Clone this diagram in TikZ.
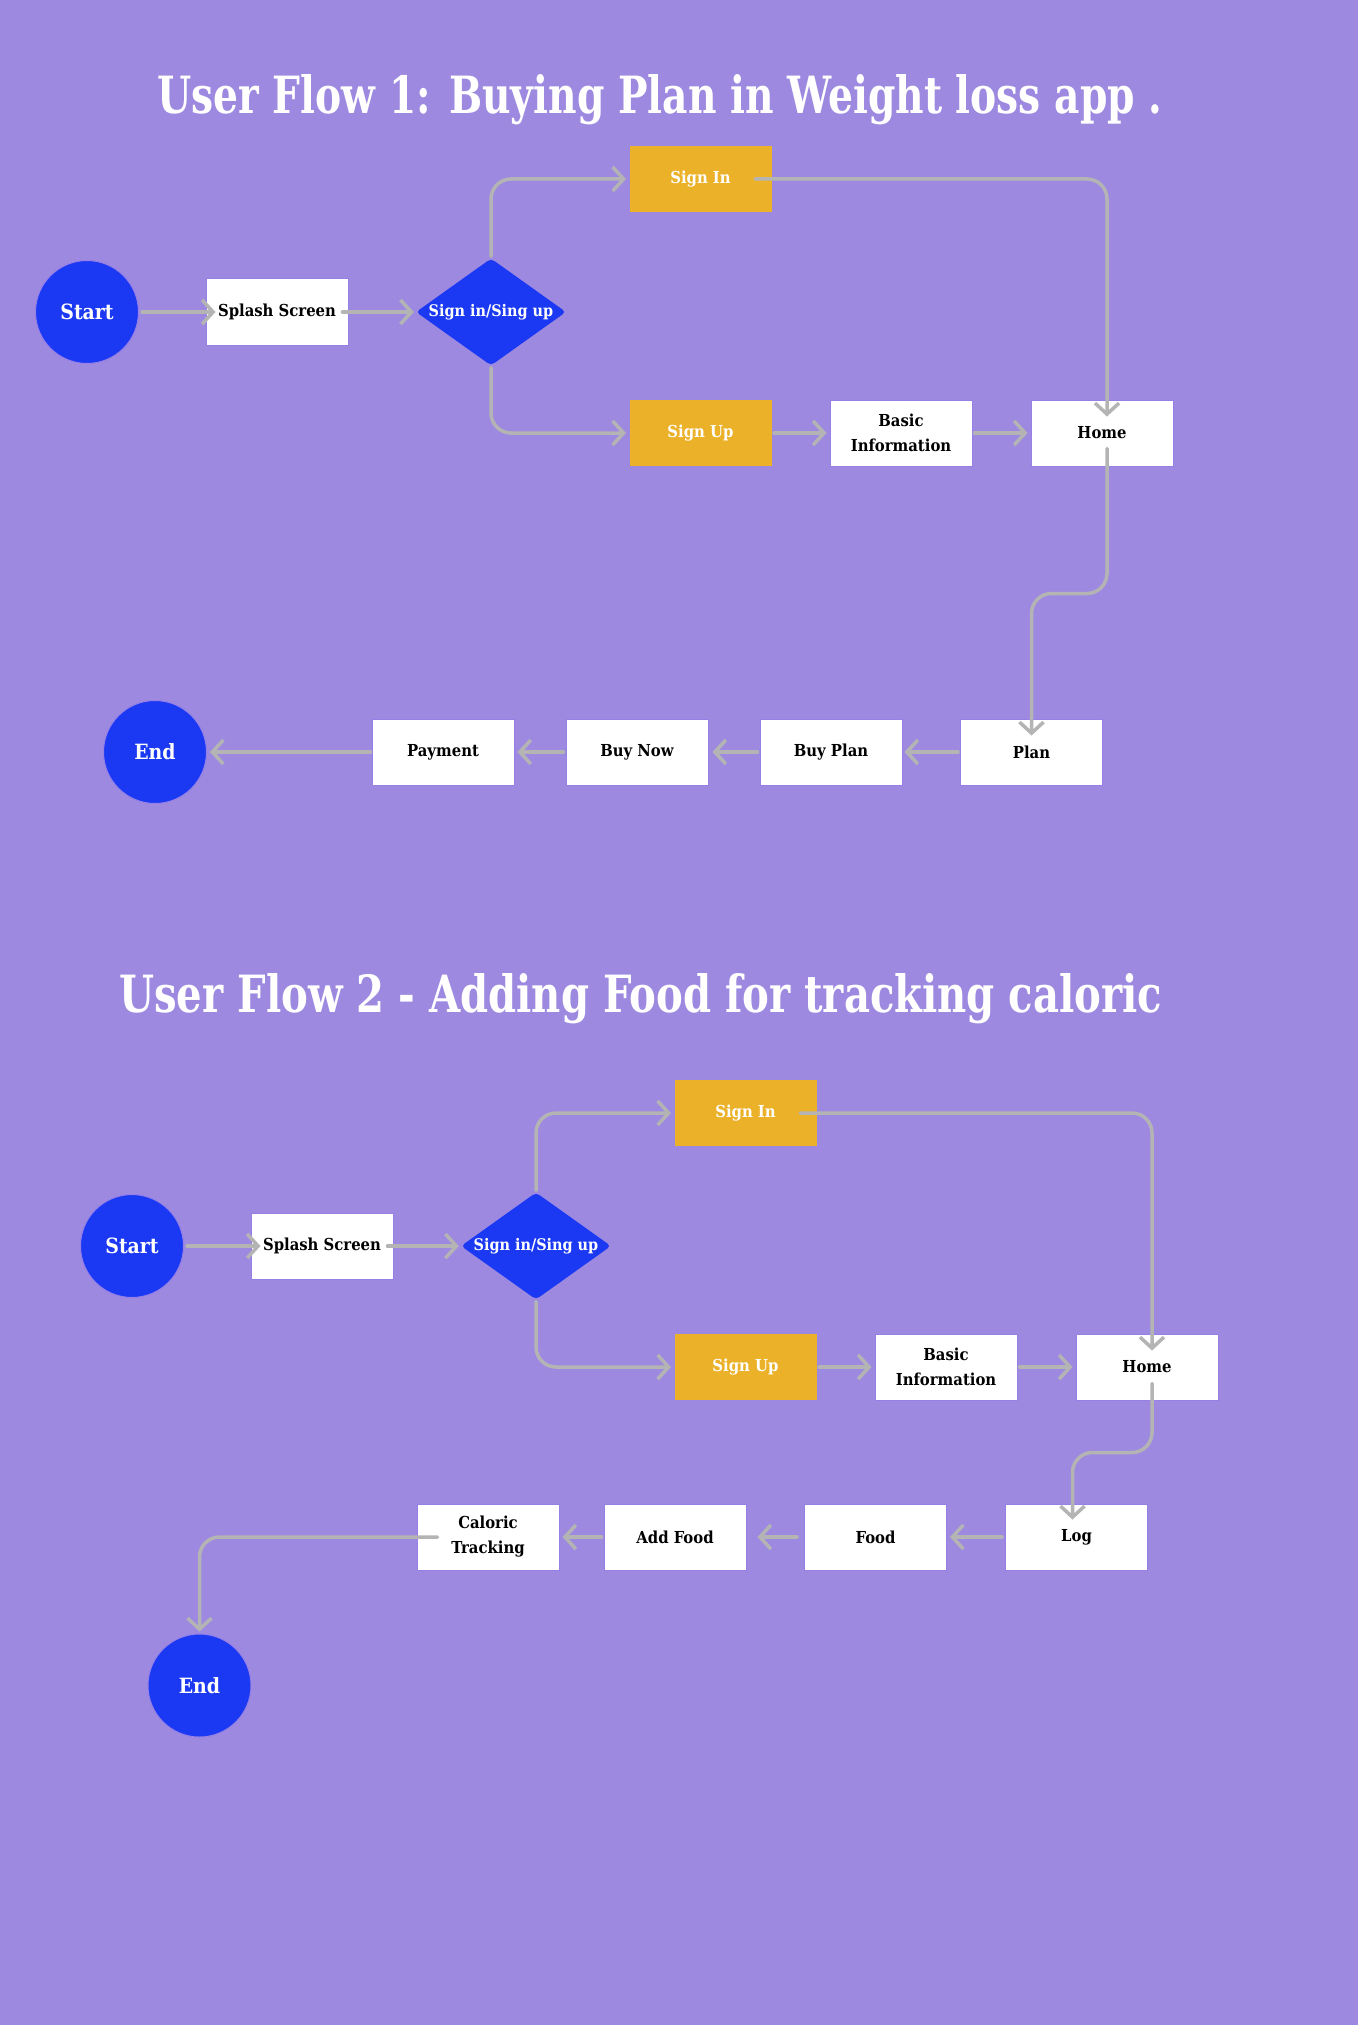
\documentclass[tikz,border=0pt]{standalone}
\usepackage{fontspec}
\setmainfont{DejaVu Serif Condensed}
\newfontfamily\titlefont{DejaVu Serif}
\usetikzlibrary{arrows.meta}
\usetikzlibrary{shapes.geometric}

\definecolor{bgpurple}{RGB}{158,137,224}
\definecolor{flowblue}{RGB}{27,57,242}
\definecolor{flowyellow}{RGB}{235,177,40}
\definecolor{flowgray}{RGB}{180,180,180}
\definecolor{boxedge}{RGB}{150,128,232}

\begin{document}
\begin{tikzpicture}[x=1pt,y=-1pt,
    screen/.style={rectangle,fill=white,draw=boxedge,line width=1pt,minimum width=142pt,minimum height=66pt,inner sep=0pt,text=black,align=center,font=\bfseries\fontsize{16.5}{25}\selectfont},
    auth/.style={screen,fill=flowyellow,draw=none,text=white},
    terminal/.style={circle,fill=flowblue,draw=boxedge,line width=1pt,minimum size=103pt,inner sep=0pt,text=white,font=\bfseries\fontsize{21}{24}\selectfont},
    choice/.style={diamond,aspect=1.4,fill=flowblue,rounded corners=4pt,minimum width=150pt,minimum height=107pt,inner sep=0pt,text=white,font=\bfseries\fontsize{16}{20}\selectfont},
    heading/.style={anchor=base west,inner sep=0pt,text=white,font=\titlefont\bfseries},
    flow/.style={draw=flowgray,line width=3.5pt,line cap=round,rounded corners=20pt,-{Straight Barb[length=11pt,width=24pt]}}
  ]
  \fill[bgpurple] (0,0) rectangle (1358,2025);
  \useasboundingbox (0,0) rectangle (1358,2025);

  \node[heading] (Title1) at (157,114) {\resizebox{1005pt}{39pt}{User Flow 1: Buying Plan in Weight loss app .}};

  \node[terminal] (Start1) at (87,312) {Start};
  \node[screen] (Splash1) at (277,312) {Splash Screen};
  \node[choice] (Choice1) at (491,312) {Sign in/Sing up};
  \node[auth] (SignIn1) at (700.5,179) {Sign In};
  \node[auth] (SignUp1) at (700.5,433) {Sign Up};
  \node[screen] (Basic1) at (901,433) {Basic\\Information};
  \node[screen] (Home1) at (1102,433) {Home};
  \node[screen] (Plan1) at (1031.5,752) {Plan};
  \node[screen] (BuyPlan1) at (831,752) {Buy Plan};
  \node[screen] (BuyNow1) at (637,752) {Buy Now};
  \node[screen] (Payment1) at (443,752) {Payment};
  \node[terminal] (End1) at (155,752) {End};

  \draw[flow] ([xshift=3pt]Start1.east) -- ([xshift=10pt]Splash1.west);
  \draw[flow] ([xshift=-6pt]Splash1.east) -- ([xshift=-2pt]Choice1.west);
  \draw[flow] ([yshift=2pt]Choice1.north) |- ([xshift=-3pt]SignIn1.west);
  \draw[flow] ([yshift=-2pt]Choice1.south) |- ([xshift=-3pt]SignUp1.west);
  \draw[flow] ([xshift=-17pt]SignIn1.east) -| ([xshift=5pt,yshift=-17pt]Home1.north);
  \draw[flow] ([xshift=2pt]SignUp1.east) -- ([xshift=-3pt]Basic1.west);
  \draw[flow] ([xshift=2pt]Basic1.east) -- ([xshift=-3pt]Home1.west);
  \draw[flow] ([xshift=5pt,yshift=18pt]Home1.south) -- ++(0,145) -| ([yshift=-17pt]Plan1.north);
  \draw[flow] ([xshift=-2pt]Plan1.west) -- ([xshift=2pt]BuyPlan1.east);
  \draw[flow] ([xshift=-2pt]BuyPlan1.west) -- ([xshift=4pt]BuyNow1.east);
  \draw[flow] ([xshift=-2pt]BuyNow1.west) -- ([xshift=3pt]Payment1.east);
  \draw[flow] ([xshift=-1pt]Payment1.west) -- ([xshift=3pt]End1.east);

  \node[heading] (Title2) at (119,1012) {\resizebox{1043pt}{39pt}{User Flow 2 - Adding Food for tracking caloric}};

  \node[terminal] (Start2) at (132,1246) {Start};
  \node[screen] (Splash2) at (322,1246) {Splash Screen};
  \node[choice] (Choice2) at (536,1246) {Sign in/Sing up};
  \node[auth] (SignIn2) at (745.5,1113) {Sign In};
  \node[auth] (SignUp2) at (745.5,1367) {Sign Up};
  \node[screen] (Basic2) at (946,1367) {Basic\\Information};
  \node[screen] (Home2) at (1147,1367) {Home};
  \node[screen] (Log2) at (1076.5,1537) {Log};
  \node[screen] (Food2) at (875.5,1537) {Food};
  \node[screen] (AddFood2) at (675,1537) {Add Food};
  \node[screen] (Caloric2) at (488,1537) {Caloric\\Tracking};
  \node[terminal] (End2) at (199.5,1685.5) {End};

  \draw[flow] ([xshift=3pt]Start2.east) -- ([xshift=10pt]Splash2.west);
  \draw[flow] ([xshift=-6pt]Splash2.east) -- ([xshift=-2pt]Choice2.west);
  \draw[flow] ([yshift=2pt]Choice2.north) |- ([xshift=-3pt]SignIn2.west);
  \draw[flow] ([yshift=-2pt]Choice2.south) |- ([xshift=-3pt]SignUp2.west);
  \draw[flow] ([xshift=-17pt]SignIn2.east) -| ([xshift=5pt,yshift=-17pt]Home2.north);
  \draw[flow] ([xshift=2pt]SignUp2.east) -- ([xshift=-3pt]Basic2.west);
  \draw[flow] ([xshift=2pt]Basic2.east) -- ([xshift=-3pt]Home2.west);
  \draw[flow] ([xshift=5pt,yshift=17pt]Home2.south) -- ++(0,69) -| ([xshift=-4pt,yshift=-16pt]Log2.north);
  \draw[flow] ([xshift=-3pt]Log2.west) -- ([xshift=3pt]Food2.east);
  \draw[flow] ([xshift=-7pt]Food2.west) -- ([xshift=11pt]AddFood2.east);
  \draw[flow] ([xshift=-2pt]AddFood2.west) -- ([xshift=3pt]Caloric2.east);
  \draw[flow] ([xshift=21pt]Caloric2.west) -| ([yshift=2pt]End2.north);
\end{tikzpicture}
\end{document}
